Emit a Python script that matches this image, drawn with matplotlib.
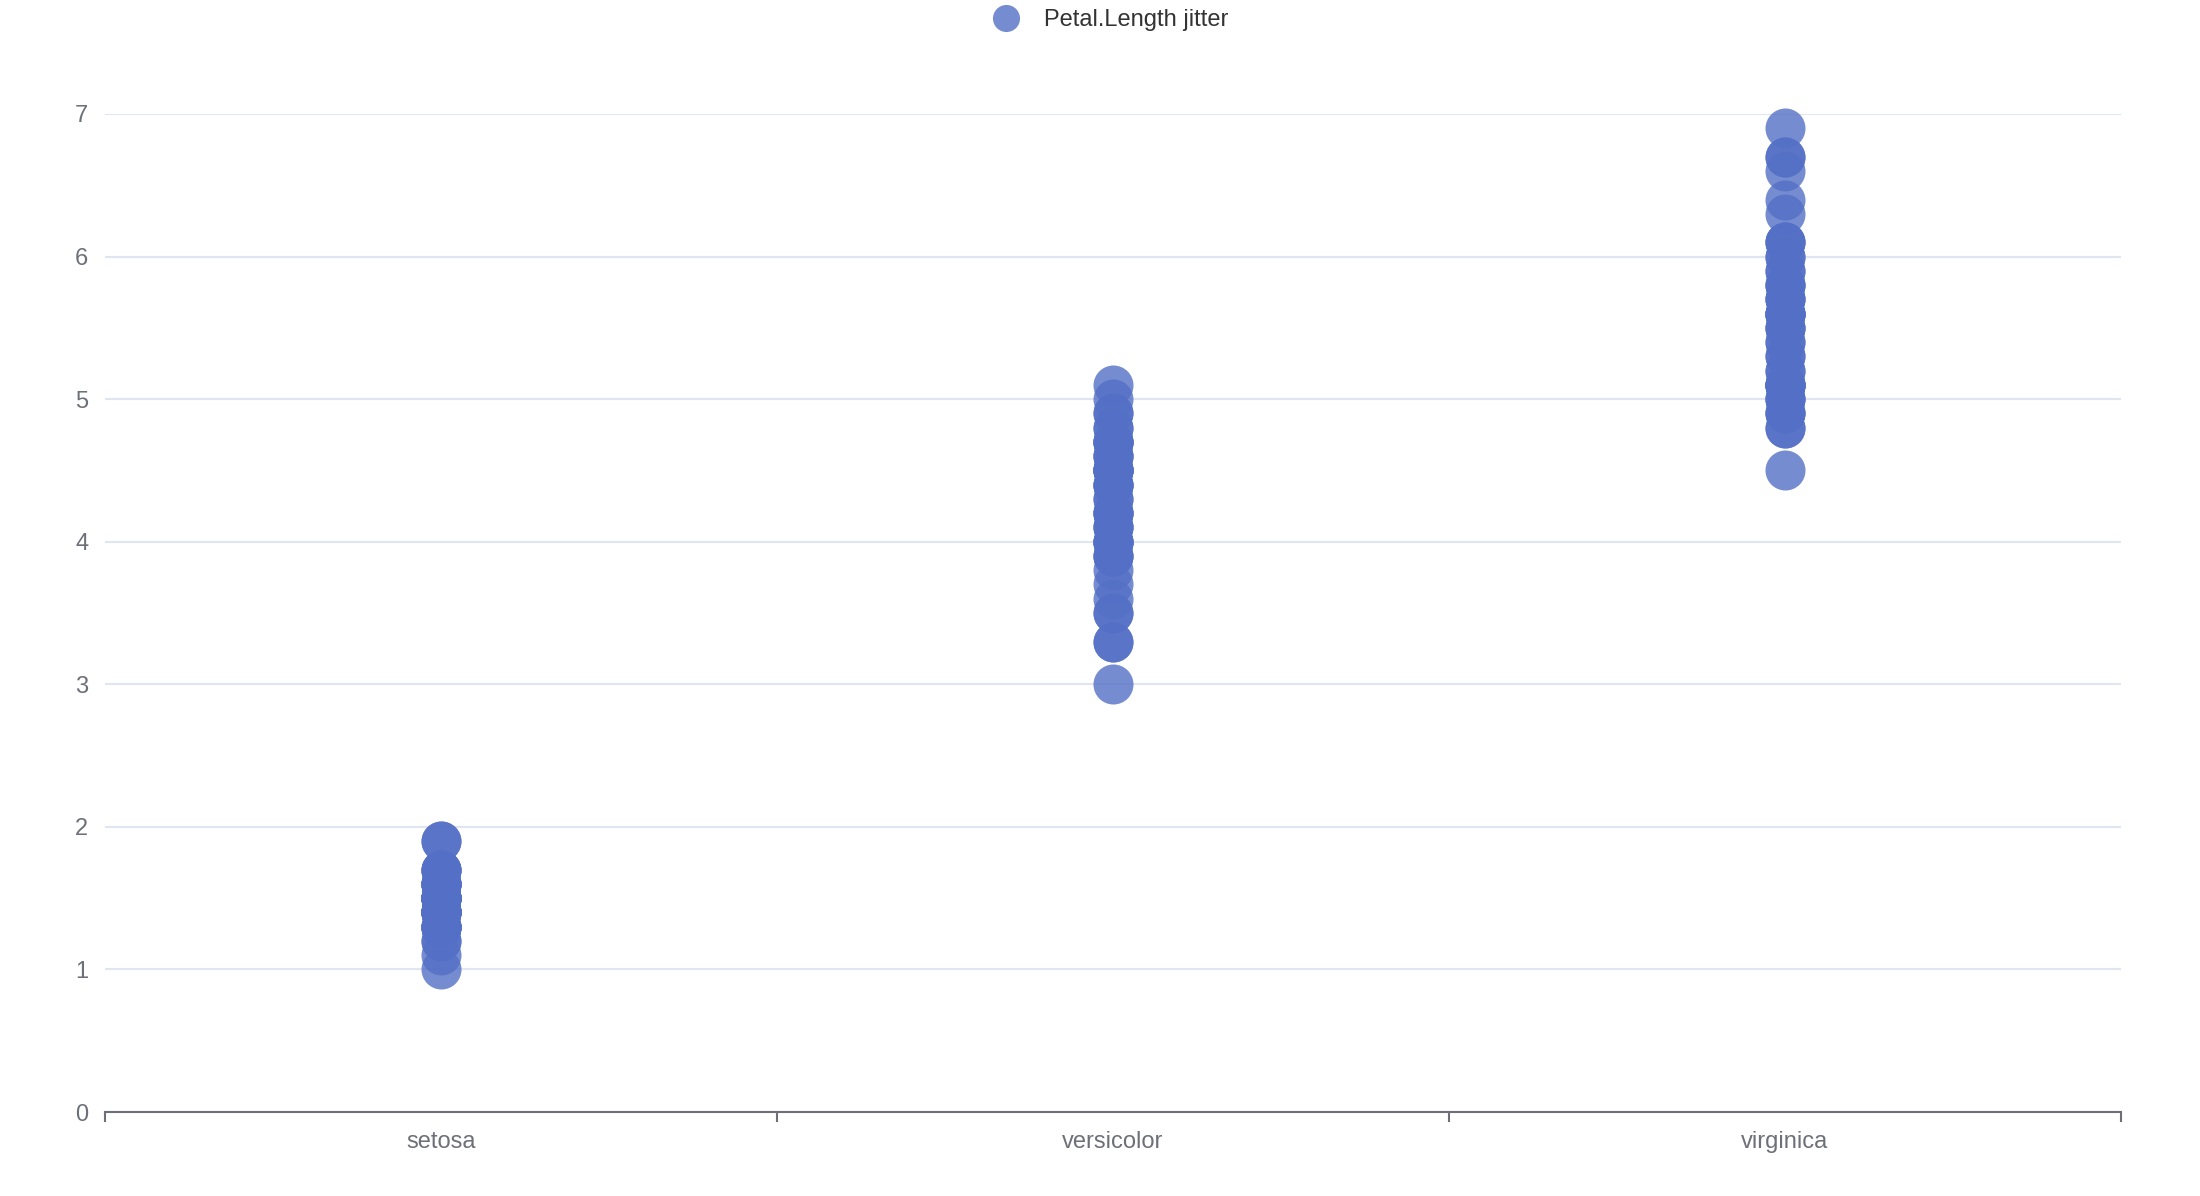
import matplotlib.pyplot as plt
from matplotlib.lines import Line2D

plt.rcParams['font.family'] = ['Liberation Sans', 'DejaVu Sans']

# Iris petal length per species
species = ['setosa', 'versicolor', 'virginica']
setosa = [1.4, 1.4, 1.3, 1.5, 1.4, 1.7, 1.4, 1.5, 1.4, 1.5, 1.5, 1.6, 1.4, 1.1, 1.2, 1.5, 1.3,
          1.4, 1.7, 1.5, 1.7, 1.5, 1.0, 1.7, 1.9, 1.6, 1.6, 1.5, 1.4, 1.6, 1.6, 1.5, 1.5, 1.4,
          1.5, 1.2, 1.3, 1.4, 1.3, 1.5, 1.3, 1.3, 1.3, 1.6, 1.9, 1.4, 1.6, 1.4, 1.5, 1.4]
versicolor = [4.7, 4.5, 4.9, 4.0, 4.6, 4.5, 4.7, 3.3, 4.6, 3.9, 3.5, 4.2, 4.0, 4.7, 3.6, 4.4, 4.5,
              4.1, 4.5, 3.9, 4.8, 4.0, 4.9, 4.7, 4.3, 4.4, 4.8, 5.0, 4.5, 3.5, 3.8, 3.7, 3.9, 5.1,
              4.5, 4.5, 4.7, 4.4, 4.1, 4.0, 4.4, 4.6, 4.0, 3.3, 4.2, 4.2, 4.2, 4.3, 3.0, 4.1]
virginica = [6.0, 5.1, 5.9, 5.6, 5.8, 6.6, 4.5, 6.3, 5.8, 6.1, 5.1, 5.3, 5.5, 5.0, 5.1, 5.3, 5.5,
             6.7, 6.9, 5.0, 5.7, 4.9, 6.7, 4.9, 5.7, 6.0, 4.8, 4.9, 5.6, 5.8, 6.1, 6.4, 5.6, 5.1,
             5.6, 6.1, 5.6, 5.5, 4.8, 5.4, 5.6, 5.1, 5.1, 5.9, 5.7, 5.2, 5.0, 5.2, 5.4, 5.1]
y_ticks = [0, 1, 2, 3, 4, 5, 6, 7]

blue = '#5470c6'
grey = '#6e7079'

fig = plt.figure(figsize=(22, 11.96), dpi=100)
ax = fig.add_axes([0.0477, 0.0702, 0.9164, 0.8345])

xs, ys = [], []
for i, vals in enumerate([setosa, versicolor, virginica]):
    xs += [i] * len(vals)
    ys += vals
ax.scatter(xs, ys, s=830, color=blue, alpha=0.8, linewidths=0, clip_on=False, zorder=3)

ax.set_xlim(-0.5, 2.5)
ax.set_ylim(0, 7)
ax.set_yticks(y_ticks)
ax.grid(axis='y', color='#e0e6f1', linewidth=1.5)
ax.set_axisbelow(True)

ax.set_xticks(range(len(species)))
ax.set_xticklabels(species)
ax.set_xticks([-0.5, 0.5, 1.5, 2.5], minor=True)
ax.tick_params(axis='x', which='major', length=0, pad=14, labelsize=17, labelcolor=grey)
ax.tick_params(axis='x', which='minor', length=7, width=1.5, color=grey)
ax.tick_params(axis='y', length=0, pad=12, labelsize=17, labelcolor=grey)

for side in ['top', 'right', 'left']:
    ax.spines[side].set_visible(False)
ax.spines['bottom'].set_color(grey)
ax.spines['bottom'].set_linewidth(1.5)

handle = Line2D([], [], marker='o', linestyle='', markersize=19.5,
                markerfacecolor=blue, markeredgewidth=0, alpha=0.8)
fig.legend([handle], ['Petal.Length jitter'], loc='center',
           bbox_to_anchor=(0.5025, 0.983), frameon=False, fontsize=17,
           handletextpad=0.6, labelcolor='#333333')

fig.savefig('out.png')
